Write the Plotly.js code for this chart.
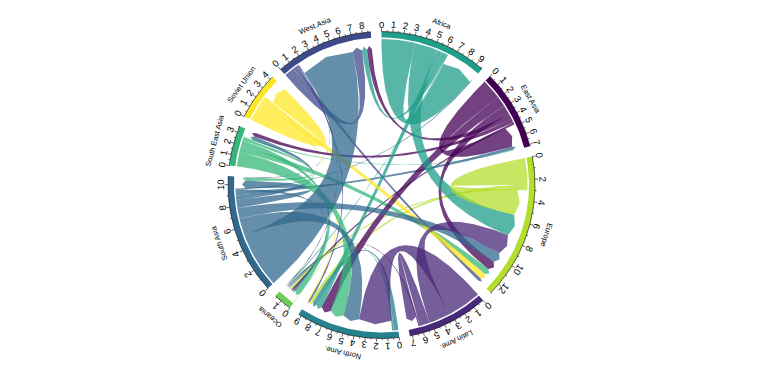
<!DOCTYPE html>
<html><head><meta charset="utf-8">
<script src="https://cdn.plot.ly/plotly-3.0.1.min.js"></script>
<style>html,body{margin:0;padding:0;background:#fff}#chart{width:768px;height:373px}</style>
</head><body><div id="chart"></div>
<script>
const regions = ["Africa","East Asia","Europe","Latin Ame.","North Ame.","Oceania","South Asia","South East Asia","Soviet Union","West.Asia"];
const regionColors = ["#1F9E89","#440154","#B4DE2C","#482878","#26828E","#6DCD59","#31688E","#35B779","#FDE725","#3E4A89"];
// migration flows, one array per origin region, values in the order of `regions`
const fromAfrica        = [3.14, 0,    2.11, 0,    0.54, 0.10, 0,    0,    0,    0.50];
const fromEastAsia      = [0,    1.90, 0.90, 0,    0.97, 0.20, 0,    0.38, 0,    0.50];
const fromEurope        = [0,    0,    2.50, 0,    0.30, 0.20, 0,    0,    0,    0];
const fromLatinAme      = [0,    0,    2.00, 0.95, 3.21, 0.13, 0,    0,    0,    0];
const fromNorthAme      = [0,    0,    0,    0,    0.43, 0.15, 0,    0,    0,    0];
const fromOceania       = [0,    0,    0,    0,    0,    0.05, 0,    0,    0,    0];
const fromSouthAsia     = [0.11, 0.33, 1.00, 0,    1.60, 0.21, 0.77, 0.39, 0,    5.23];
const fromSouthEastAsia = [0,    0.09, 0.60, 0,    1.35, 0.50, 0.27, 0,    0,    0];
const fromSovietUnion   = [0,    0,    0.60, 0,    0.11, 0,    0,    0,    1.80, 0];
const fromWestAsia      = [0,    0,    0.32, 0,    0.17, 0.07, 0.07, 0,    0,    0.95];

const M = [fromAfrica, fromEastAsia, fromEurope, fromLatinAme, fromNorthAme, fromOceania,
           fromSouthAsia, fromSouthEastAsia, fromSovietUnion, fromWestAsia];

// ---- layout constants (pixels) ----
const W = 768, H = 373, CX = 381.5, CY = 185;
const GAP = 4;                // degrees between sectors
const R_OUT = 153.5, R_IN = 147.5;   // grid track
const R_SRC = 146, R_TGT = 136, R_TIP = 139.5;
const R_TICKLAB = 161, R_NAME = 172.5;

const n = regions.length;
const totals = regions.map((_, k) => {
  let s = 0;
  for (let j = 0; j < n; j++) s += M[k][j];
  for (let i = 0; i < n; i++) s += M[i][k];
  return s;
});
const grand = totals.reduce((a, b) => a + b, 0);
const U = (360 - n * GAP) / grand;
const starts = [];
{ let a = 0; for (let k = 0; k < n; k++) { starts.push(a); a += totals[k] * U + GAP; } }

function P(r, deg) { const t = deg * Math.PI / 180; return [r * Math.sin(t), r * Math.cos(t)]; }
function ang(k, x) { return starts[k] + x * U; }

// links
const links = [];
for (let i = 0; i < n; i++) for (let j = 0; j < n; j++) if (M[i][j] > 0) links.push({ s: i, t: j, v: M[i][j] });
for (let k = 0; k < n; k++) {
  const out = links.filter(l => l.s === k).sort((a, b) => b.v - a.v || a.t - b.t);
  const inc = links.filter(l => l.t === k).sort((a, b) => b.v - a.v || a.s - b.s);
  let pos = 0;
  out.forEach(l => { l.s1 = pos; l.s2 = pos + l.v; pos += l.v; });
  inc.forEach(l => { l.t1 = pos; l.t2 = pos + l.v; pos += l.v; });
}

function arcPts(r, a, b, m) { const pts = []; for (let q = 0; q <= m; q++) pts.push(P(r, a + (b - a) * q / m)); return pts; }
function bez(p0, p2, m) {
  const pts = [];
  for (let q = 1; q < m; q++) { const t = q / m, a = (1 - t) * (1 - t), c = t * t; pts.push([a * p0[0] + c * p2[0], a * p0[1] + c * p2[1]]); }
  return pts;
}
function hexA(h, a) { const r = parseInt(h.slice(1, 3), 16), g = parseInt(h.slice(3, 5), 16), b = parseInt(h.slice(5, 7), 16); return `rgba(${r},${g},${b},${a})`; }

const traces = [];
const sorted = links.slice().sort((a, b) => a.v - b.v);
sorted.forEach(l => {
  const A1 = ang(l.s, l.s1), A2 = ang(l.s, l.s2), B1 = ang(l.t, l.t1), B2 = ang(l.t, l.t2);
  const pts = [];
  pts.push(...arcPts(R_SRC, A1, A2, 12));
  const b1 = P(R_TGT, B1), b2 = P(R_TGT, B2);
  pts.push(...bez(P(R_SRC, A2), b1, 80));
  pts.push(b1, P(R_TIP, (B1 + B2) / 2), b2);
  pts.push(...bez(b2, P(R_SRC, A1), 80));
  pts.push(P(R_SRC, A1));
  traces.push({ type: 'scatter', mode: 'lines', x: pts.map(p => p[0]), y: pts.map(p => p[1]),
    fill: 'toself', fillcolor: hexA(regionColors[l.s], 0.75), line: { width: 0 }, hoverinfo: 'skip', showlegend: false });
});

// grid track
for (let k = 0; k < n; k++) {
  const a = starts[k], b = a + totals[k] * U;
  const pts = arcPts(R_OUT, a, b, 60).concat(arcPts(R_IN, b, a, 60));
  pts.push(pts[0]);
  traces.push({ type: 'scatter', mode: 'lines', x: pts.map(p => p[0]), y: pts.map(p => p[1]),
    fill: 'toself', fillcolor: regionColors[k], line: { width: 0 }, hoverinfo: 'skip', showlegend: false });
}

// axes
const annotations = [];
const axX = [], axY = [];
for (let k = 0; k < n; k++) {
  const a = starts[k], b = a + totals[k] * U;
  arcPts(R_OUT, a, b, 60).forEach(p => { axX.push(p[0]); axY.push(p[1]); });
  axX.push(null); axY.push(null);
  const step = totals[k] > 10 ? 2 : 1;
  for (let v = 0; v <= totals[k] + 1e-9; v += step) {
    const d = ang(k, v);
    const p0 = P(R_OUT, d), p1 = P(R_OUT + 3.2, d);
    axX.push(p0[0], p1[0], null); axY.push(p0[1], p1[1], null);
    const pl = P(R_TICKLAB, d);
    annotations.push({ x: pl[0], y: pl[1], text: String(v), showarrow: false, textangle: d,
      font: { family: 'Liberation Sans, Arial, sans-serif', size: 9.5, color: '#000' }, xanchor: 'center', yanchor: 'middle' });
    const vm = v + step / 2;
    if (vm < totals[k]) {
      const dm = ang(k, vm);
      const q0 = P(R_OUT, dm), q1 = P(R_OUT + 1.6, dm);
      axX.push(q0[0], q1[0], null); axY.push(q0[1], q1[1], null);
    }
  }
  const mid = (a + b) / 2;
  const pn = P(R_NAME, mid);
  annotations.push({ x: pn[0], y: pn[1], text: regions[k], showarrow: false, textangle: mid,
    font: { family: 'Liberation Sans, Arial, sans-serif', size: 7.5, color: '#000' }, xanchor: 'center', yanchor: 'middle' });
}
traces.push({ type: 'scatter', mode: 'lines', x: axX, y: axY, line: { color: '#000', width: 0.6 }, hoverinfo: 'skip', showlegend: false });

const layout = {
  width: W, height: H, margin: { l: 0, r: 0, t: 0, b: 0 },
  paper_bgcolor: '#fff', plot_bgcolor: '#fff',
  xaxis: { range: [-CX, W - CX], visible: false, fixedrange: true },
  yaxis: { range: [CY - H, CY], visible: false, fixedrange: true },
  annotations: annotations, showlegend: false
};
Plotly.newPlot('chart', traces, layout, { staticPlot: true, displayModeBar: false });
</script></body></html>
